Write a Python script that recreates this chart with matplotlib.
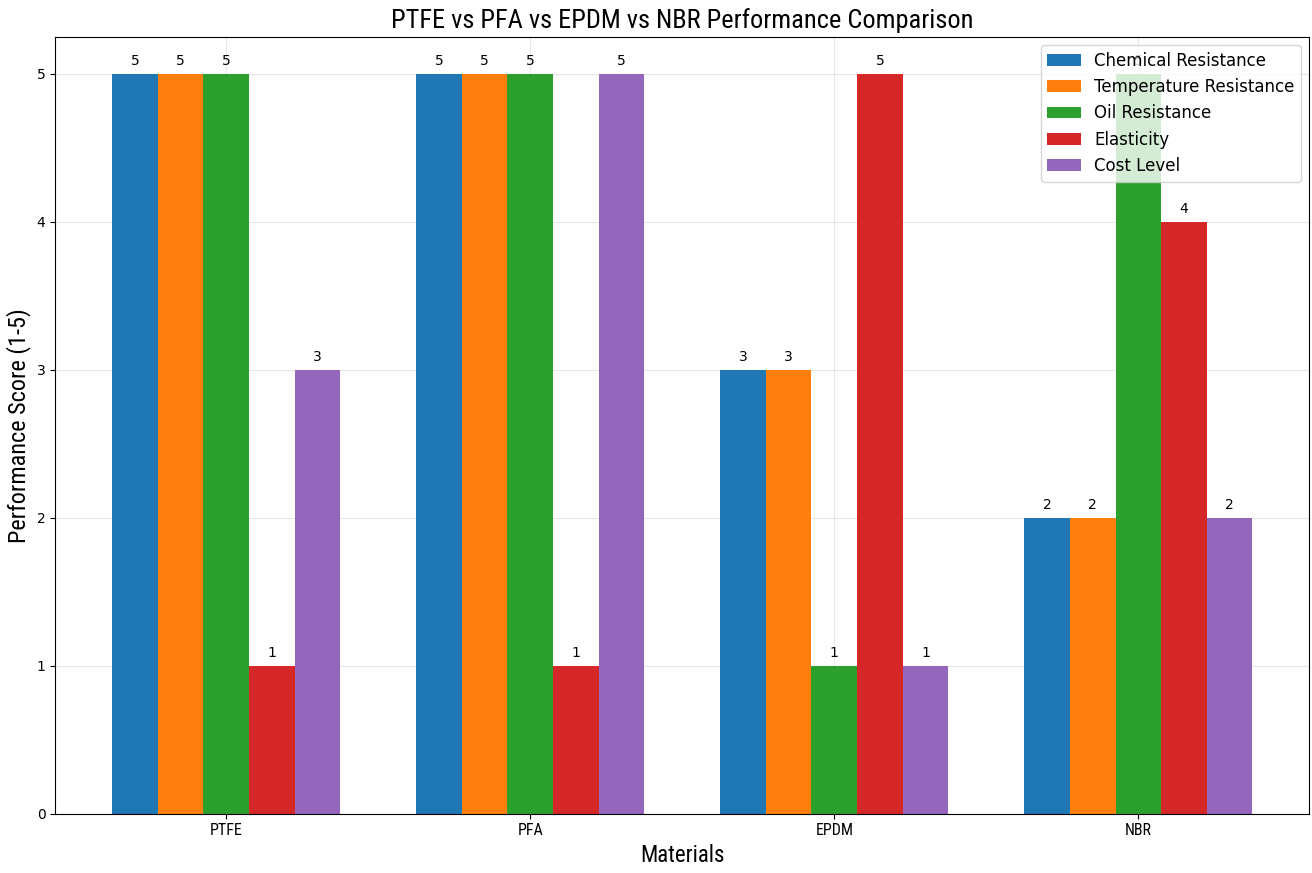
import numpy as np
import matplotlib
matplotlib.use("Agg")
from matplotlib import pyplot as plt

materials = ["PTFE", "PFA", "EPDM", "NBR"]
chemical = [5, 5, 3, 2]
temperature = [5, 5, 3, 2]
oil = [5, 5, 1, 5]
elasticity = [1, 1, 5, 4]
cost = [3, 5, 1, 2]

series = [
    ("Chemical Resistance", chemical, "#1f77b4"),
    ("Temperature Resistance", temperature, "#ff7f0e"),
    ("Oil Resistance", oil, "#2ca02c"),
    ("Elasticity", elasticity, "#d62728"),
    ("Cost Level", cost, "#9467bd"),
]

# condensed face for title / axis labels, fall back if missing
narrow = ["Liberation Sans Narrow", "Roboto Condensed", "DejaVu Sans"]
wide = ["DejaVu Sans"]

fig, ax = plt.subplots(figsize=(13.12, 8.73), dpi=100)
x = np.arange(len(materials))
w = 0.15

for i, (name, vals, col) in enumerate(series):
    bars = ax.bar(x + (i - 2) * w, vals, w, label=name, color=col)
    for b in bars:
        ax.text(b.get_x() + b.get_width() / 2, b.get_height() + 0.04,
                str(int(b.get_height())), ha="center", va="bottom",
                fontsize=10, family=wide)

ax.set_xticks(x)
ax.set_xticklabels(materials, fontsize=11.5, family=narrow)
ax.set_yticks(range(6))
ax.set_yticklabels([str(v) for v in range(6)], fontsize=10, family=wide)
ax.set_xlabel("Materials", fontsize=16.5, family=narrow)
ax.set_ylabel("Performance Score (1-5)", fontsize=17.5, family=narrow)
ax.set_title("PTFE vs PFA vs EPDM vs NBR Performance Comparison", fontsize=19, family=narrow)
ax.grid(True, alpha=0.3)
ax.set_axisbelow(True)
ax.legend(loc="upper right", prop={"family": wide, "size": 12})

fig.subplots_adjust(left=0.042, right=0.998, top=0.958, bottom=0.068)
plt.savefig("out.png")
